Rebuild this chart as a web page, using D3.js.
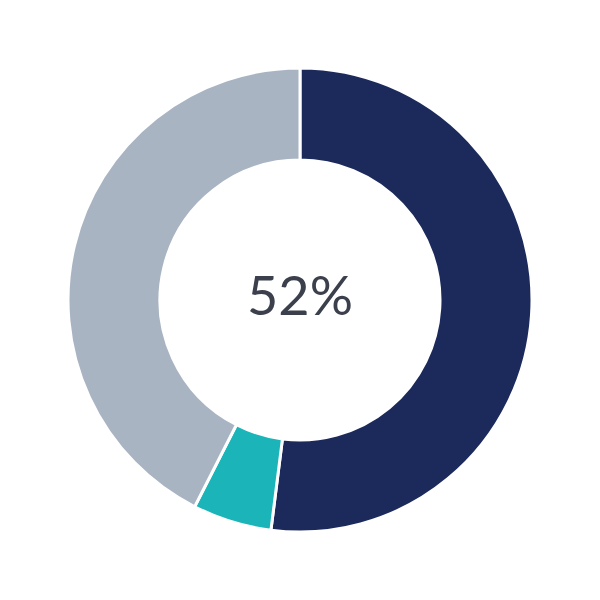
<!DOCTYPE html>
<html>
<head>
<meta charset="utf-8">
<script src="https://cdn.jsdelivr.net/npm/d3@7"></script>
<style>
  body { margin: 0; background: #fff; }
</style>
</head>
<body>
<div id="chart"></div>
<script>
// Donut chart with centre label

var categories = ["A", "B", "C"];
var values = [52, 5.5, 42.5];
var colors = ["#1b2a5b", "#1bb5b9", "#a9b4c3"];
var centerLabel = "52%";

var svgWidth = 600;
var svgHeight = 600;
var outerRadius = 232;
var innerRadius = 140;

var svg = d3.select("#chart")
  .append("svg")
  .attr("width", svgWidth)
  .attr("height", svgHeight);

var chartGroup = svg.append("g")
  .attr("transform", `translate(${svgWidth / 2}, ${svgHeight / 2})`);

var color = d3.scaleOrdinal()
  .domain(categories)
  .range(colors);

var pie = d3.pie()
  .sort(null)
  .value(d => d.value);

var arc = d3.arc()
  .innerRadius(innerRadius)
  .outerRadius(outerRadius);

var pieData = pie(categories.map((c, i) => ({ name: c, value: values[i] })));

chartGroup.selectAll("path")
  .data(pieData)
  .enter()
  .append("path")
  .attr("d", arc)
  .attr("fill", d => color(d.data.name))
  .attr("stroke", "#fff")
  .attr("stroke-width", 3);

chartGroup.append("text")
  .attr("text-anchor", "middle")
  .attr("dy", "0.28em")
  .attr("font-family", "Lato, sans-serif")
  .attr("font-weight", 400)
  .attr("font-size", 54)
  .attr("fill", "#3b404c")
  .text(centerLabel);
</script>
</body>
</html>
